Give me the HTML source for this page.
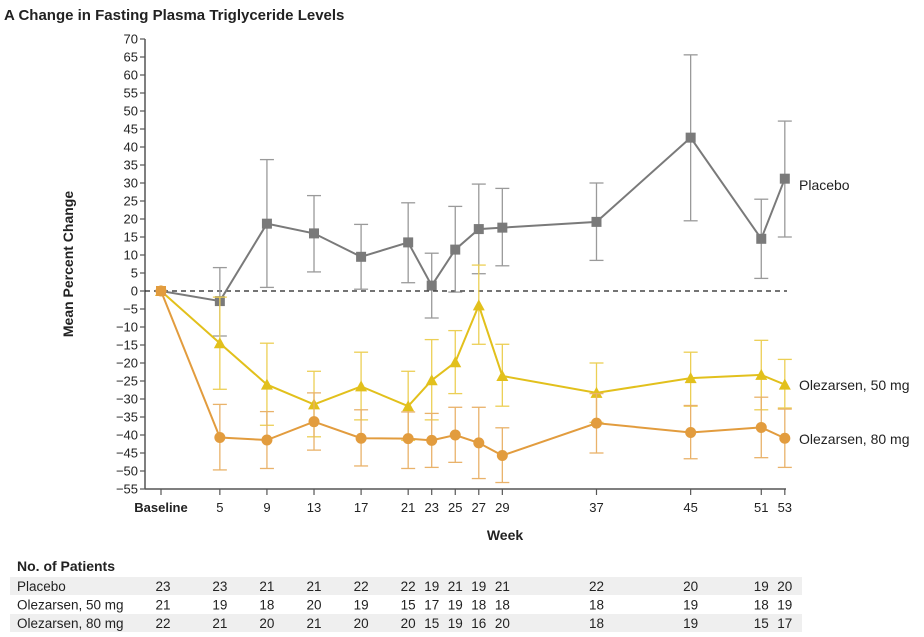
<!DOCTYPE html>
<html><head><meta charset="utf-8"><style>
body{margin:0;background:#fff;width:924px;height:637px;overflow:hidden;font-family:"Liberation Sans",sans-serif}
svg{position:absolute;left:0;top:0}
</style></head><body>
<svg id="s" width="924" height="637" xmlns="http://www.w3.org/2000/svg" font-family="Liberation Sans, sans-serif"></svg>
<script>
const s=document.getElementById('s');let h='';
const X=w=>161+w*11.77, Y=v=>291-3.6*v;
h+='<text x="4" y="20" font-size="15" font-weight="bold" fill="#222">A  Change in Fasting Plasma Triglyceride Levels</text>';
// table bgs
h+='<rect x="10" y="577" width="792" height="18" fill="#efefef"/><rect x="10" y="614" width="792" height="18" fill="#efefef"/>';
// y axis
h+='<line x1="145" y1="39" x2="145" y2="489" stroke="#555" stroke-width="1.5"/>';
for(let v=70;v>=-55;v-=5){const y=Y(v);h+=`<line x1="140" y1="${y}" x2="145" y2="${y}" stroke="#555" stroke-width="1.2"/><text x="138" y="${y+4.5}" font-size="13" text-anchor="end" fill="#222">${v<0?'\u2212'+(-v):v}</text>`;}
h+='<line x1="145" y1="489" x2="786" y2="489" stroke="#555" stroke-width="1.5"/>';
const wk=[0,5,9,13,17,21,23,25,27,29,37,45,51,53];
wk.forEach(w=>{const x=X(w);h+=`<line x1="${x}" y1="489" x2="${x}" y2="495" stroke="#555" stroke-width="1.2"/>`;
h+=`<text x="${x}" y="512" font-size="13" text-anchor="middle" fill="#222" ${w==0?'font-weight="bold"':''}>${w==0?'Baseline':w}</text>`;});
h+='<text x="505" y="540" font-size="14" font-weight="bold" text-anchor="middle" fill="#222">Week</text>';
h+='<text transform="translate(73,264) rotate(-90)" font-size="14" font-weight="bold" text-anchor="middle" fill="#222">Mean Percent Change</text>';
h+=`<line x1="145" y1="291" x2="787" y2="291" stroke="#222" stroke-width="1.2" stroke-dasharray="5,4"/>`;
const P=[[0,0,0,0],[5,-2.8,-12.5,6.5],[9,18.7,1,36.5],[13,16,5.3,26.5],[17,9.5,0.5,18.5],[21,13.5,2.3,24.5],[23,1.5,-7.5,10.5],[25,11.5,-0.3,23.5],[27,17.2,4.8,29.7],[29,17.6,7,28.5],[37,19.2,8.5,30],[45,42.6,19.5,65.6],[51,14.5,3.5,25.5],[53,31.2,15,47.2]];
const A=[[0,0,0,0],[5,-14.5,-27.3,-1.7],[9,-26,-37.3,-14.5],[13,-31.5,-40.5,-22.3],[17,-26.5,-35.8,-17],[21,-32,-41.5,-22.3],[23,-24.8,-35.8,-13.5],[25,-19.8,-28.5,-11],[27,-4,-14.8,7.2],[29,-23.6,-32,-14.8],[37,-28.3,-36.5,-20],[45,-24.2,-32,-17],[51,-23.3,-33,-13.7],[53,-26,-32.5,-19]];
const B=[[0,0,0,0],[5,-40.7,-49.7,-31.5],[9,-41.4,-49.3,-33.5],[13,-36.3,-44.2,-28.3],[17,-40.9,-48.6,-33],[21,-41,-49.3,-33.6],[23,-41.5,-49,-34],[25,-40,-47.6,-32.3],[27,-42.2,-52.1,-32.3],[29,-45.7,-53.2,-38],[37,-36.7,-45,-28.5],[45,-39.3,-46.6,-31.8],[51,-37.9,-46.3,-29.5],[53,-40.9,-49,-32.8]];
function series(d,lc,ec,m){
 d.forEach(p=>{if(p[0]==0)return;const x=X(p[0]);h+=`<g stroke="${ec}" stroke-width="1.3"><line x1="${x}" y1="${Y(p[2])}" x2="${x}" y2="${Y(p[3])}"/><line x1="${x-7}" y1="${Y(p[2])}" x2="${x+7}" y2="${Y(p[2])}"/><line x1="${x-7}" y1="${Y(p[3])}" x2="${x+7}" y2="${Y(p[3])}"/></g>`;});
 h+=`<polyline fill="none" stroke="${lc}" stroke-width="2" points="${d.map(p=>X(p[0])+','+Y(p[1])).join(' ')}"/>`;
 d.forEach(p=>{const x=X(p[0]),y=Y(p[1]);
  if(m=='s')h+=`<rect x="${x-5}" y="${y-5}" width="10" height="10" fill="${lc}"/>`;
  else if(m=='t')h+=`<polygon points="${x},${y-6} ${x+6},${y+5} ${x-6},${y+5}" fill="${lc}"/>`;
  else h+=`<circle cx="${x}" cy="${y}" r="5.5" fill="${lc}"/>`;});
}
series(P,'#7a7a7a','#9a9a9a','s');
series(A,'#e2c01c','#eccf55','t');
series(B,'#e29c3e','#e9b26a','c');
h+=`<rect x="156" y="286" width="10" height="10" fill="#e29c3e"/>`;
h+='<text x="799" y="190" font-size="14" fill="#222">Placebo</text>';
h+='<text x="799" y="390" font-size="14" fill="#222">Olezarsen, 50 mg</text>';
h+='<text x="799" y="444" font-size="14" fill="#222">Olezarsen, 80 mg</text>';
h+='<text x="17" y="571" font-size="14" font-weight="bold" fill="#222">No. of Patients</text>';
const rows=[['Placebo',[23,23,21,21,22,22,19,21,19,21,22,20,19,20]],['Olezarsen, 50 mg',[21,19,18,20,19,15,17,19,18,18,18,19,18,19]],['Olezarsen, 80 mg',[22,21,20,21,20,20,15,19,16,20,18,19,15,17]]];
rows.forEach((r,i)=>{const y=591+i*18.5;h+=`<text x="17" y="${y}" font-size="13.5" fill="#222">${r[0]}</text>`;
 r[1].forEach((n,j)=>{h+=`<text x="${X(wk[j])+(j==0?2:0)}" y="${y}" font-size="13.5" text-anchor="middle" fill="#222">${n}</text>`;});});
s.innerHTML=h;
</script>
</body></html>
